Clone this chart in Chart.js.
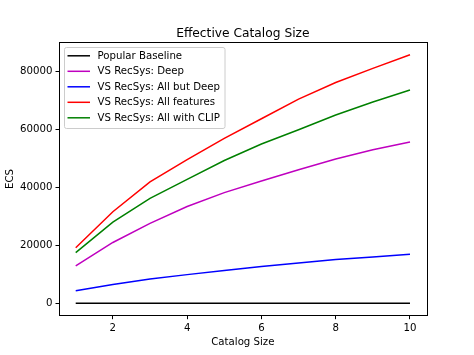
<!DOCTYPE html>
<html>
<head>
<meta charset="utf-8">
<script src="https://cdn.jsdelivr.net/npm/chart.js@4"></script>
<style>
html,body{margin:0;padding:0;background:#fff;}
canvas{display:block;}
</style>
</head>
<body>
<canvas id="c" width="474" height="355"></canvas>
<script>
const catalogSize = [1, 2, 3, 4, 5, 6, 7, 8, 9, 10];
const popularBaseline = [10, 10, 10, 10, 10, 10, 10, 10, 10, 10];
const vsDeep = [12900, 21000, 27600, 33400, 38200, 42200, 46100, 49800, 53000, 55700];
const vsAllButDeep = [4300, 6500, 8400, 9900, 11300, 12700, 13900, 15100, 16000, 16900];
const vsAllFeatures = [19200, 31600, 41900, 49600, 56900, 63700, 70500, 76200, 81100, 85800];
const vsAllWithClip = [17500, 28000, 36200, 42800, 49300, 55000, 59900, 65000, 69500, 73600];
const xTicks = [2, 4, 6, 8, 10];
const yTicks = [0, 20000, 40000, 60000, 80000];
const seriesLabels = ['Popular Baseline', 'VS RecSys: Deep', 'VS RecSys: All but Deep', 'VS RecSys: All features', 'VS RecSys: All with CLIP'];
const seriesColors = ['#000000', '#bf00bf', '#0000ff', '#ff0000', '#008000'];
const seriesValues = [popularBaseline, vsDeep, vsAllButDeep, vsAllFeatures, vsAllWithClip];
const titleText = 'Effective Catalog Size';
const xTitle = 'Catalog Size';
const yTitle = 'ECS';

const FONT = '"DejaVu Sans", sans-serif';
const allVals = seriesValues.flat();
const yLo = Math.min(...allVals), yHi = Math.max(...allVals);
const yPad = 0.05 * (yHi - yLo);
const xLo = Math.min(...catalogSize), xHi = Math.max(...catalogSize);
const xPad = 0.05 * (xHi - xLo);

const datasets = seriesValues.map((vals, i) => ({
  label: seriesLabels[i],
  data: vals.map((v, j) => ({x: catalogSize[j], y: v})),
  borderColor: seriesColors[i],
  backgroundColor: seriesColors[i],
  borderWidth: 1.5,
  pointRadius: 0,
  tension: 0,
  fill: false
}));

const decor = {
  id: 'decor',
  afterDraw(chart) {
    const ctx = chart.ctx;
    const a = chart.chartArea;
    ctx.save();
    // frame
    ctx.strokeStyle = '#000';
    ctx.lineWidth = 1;
    ctx.strokeRect(Math.round(a.left) + 0.5, Math.round(a.top) + 0.5, Math.round(a.right - a.left), Math.round(a.bottom - a.top));
    // title
    ctx.fillStyle = '#000';
    ctx.font = '12.25px ' + FONT;
    ctx.textAlign = 'center';
    ctx.textBaseline = 'alphabetic';
    ctx.fillText(titleText, (a.left + a.right) / 2, 36.6);
    // axis titles
    ctx.font = '10.2px ' + FONT;
    ctx.textBaseline = 'middle';
    ctx.fillText(xTitle, (a.left + a.right) / 2, 342.3);
    ctx.save();
    ctx.translate(10, (a.top + a.bottom) / 2);
    ctx.rotate(-Math.PI / 2);
    ctx.fillText(yTitle, 0, 0);
    ctx.restore();
    // legend
    const bx = 64.5, by = 47.5, bw = 160.5, bh = 81;
    ctx.globalAlpha = 0.8;
    ctx.fillStyle = '#fff';
    ctx.beginPath();
    ctx.roundRect(bx, by, bw, bh, 2);
    ctx.fill();
    ctx.globalAlpha = 1;
    ctx.strokeStyle = '#cccccc';
    ctx.lineWidth = 1;
    ctx.stroke();
    const rows = [55.8, 71.3, 86.8, 102.3, 117.8];
    ctx.textAlign = 'left';
    ctx.textBaseline = 'middle';
    chart.data.datasets.forEach((ds, i) => {
      ctx.strokeStyle = ds.borderColor;
      ctx.lineWidth = 1.5;
      ctx.beginPath();
      ctx.moveTo(67.5, rows[i]);
      ctx.lineTo(90, rows[i]);
      ctx.stroke();
      ctx.fillStyle = '#000';
      ctx.fillText(ds.label, 97.5, rows[i] + 0.5);
    });
    ctx.restore();
  }
};

new Chart(document.getElementById('c'), {
  type: 'line',
  data: {datasets},
  options: {
    responsive: false,
    animation: false,
    devicePixelRatio: 1,
    layout: {padding: {left: 0, right: 47.3, top: 42.3, bottom: 0}},
    plugins: {legend: {display: false}, title: {display: false}, tooltip: {enabled: false}},
    scales: {
      x: {
        type: 'linear',
        min: xLo - xPad,
        max: xHi + xPad,
        afterFit(s) { s.height = 39.3; },
        afterBuildTicks(s) { s.ticks = xTicks.map(v => ({value: v})); },
        grid: {drawOnChartArea: false, drawTicks: true, tickLength: 3.5, color: '#000', lineWidth: 1},
        border: {display: true, color: '#000', width: 1},
        ticks: {color: '#000', font: {family: FONT, size: 10.2}, padding: 3, maxRotation: 0, autoSkip: false, callback: v => String(v)}
      },
      y: {
        type: 'linear',
        min: yLo - yPad,
        max: yHi + yPad,
        afterFit(s) { s.width = 59; },
        afterBuildTicks(s) { s.ticks = yTicks.map(v => ({value: v})); },
        grid: {drawOnChartArea: false, drawTicks: true, tickLength: 3.5, color: '#000', lineWidth: 1},
        border: {display: true, color: '#000', width: 1},
        ticks: {color: '#000', font: {family: FONT, size: 10.2}, padding: 3, autoSkip: false, callback: v => String(v)}
      }
    }
  },
  plugins: [decor]
});
</script>
</body>
</html>
